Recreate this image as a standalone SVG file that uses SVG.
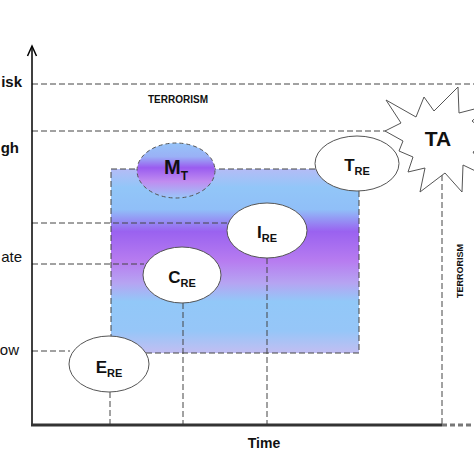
<svg xmlns="http://www.w3.org/2000/svg" width="474" height="474" viewBox="0 0 474 474">
<defs>
<linearGradient id="gRect" x1="0" y1="0" x2="0" y2="1">
<stop offset="0" stop-color="#b4bcf6"/>
<stop offset="0.1" stop-color="#92c6f8"/>
<stop offset="0.22" stop-color="#90bff8"/>
<stop offset="0.34" stop-color="#9a62f0"/>
<stop offset="0.5" stop-color="#b77cf0"/>
<stop offset="0.62" stop-color="#b6a4f2"/>
<stop offset="0.72" stop-color="#92c8f8"/>
<stop offset="0.88" stop-color="#96c6f8"/>
<stop offset="1" stop-color="#c2bef2"/>
</linearGradient>
<linearGradient id="gM" x1="0" y1="0" x2="0" y2="1">
<stop offset="0" stop-color="#96c4f8"/>
<stop offset="0.25" stop-color="#9ab0f6"/>
<stop offset="0.45" stop-color="#9a5cf0"/>
<stop offset="0.7" stop-color="#c08cf0"/>
<stop offset="1" stop-color="#9ac6f8"/>
</linearGradient>
</defs>
<style>
.d{stroke:#444;stroke-width:1;stroke-dasharray:6 3;fill:none}
.e{fill:#fff;stroke:#555;stroke-width:1}
.lab{font-family:"Liberation Sans",Arial,sans-serif;font-weight:bold;fill:#111}
.ax{font-family:"Liberation Sans",Arial,sans-serif;fill:#111}
</style>
<rect x="0" y="0" width="474" height="474" fill="#fff"/>
<rect id="zone" x="111" y="169" width="248" height="184" fill="url(#gRect)" stroke="#444" stroke-width="1" stroke-dasharray="6 3"/>
<g id="connectors">
<line class="d" x1="32" y1="84" x2="474" y2="84"/>
<line class="d" x1="32" y1="131" x2="386" y2="131"/>
<line class="d" x1="32" y1="223" x2="228" y2="223"/>
<line class="d" x1="32" y1="264" x2="144" y2="264"/>
<line class="d" x1="32" y1="351" x2="70" y2="351"/>
<line class="d" x1="110" y1="392" x2="110" y2="425"/>
<line class="d" x1="183" y1="303" x2="183" y2="425"/>
<line class="d" x1="267" y1="258" x2="267" y2="425"/>
<line class="d" x1="442" y1="175" x2="442" y2="425" stroke="#666"/>
<line x1="32" y1="425" x2="32" y2="47" stroke="#000" stroke-width="1.5"/>
<polyline points="27.5,56 32,46 36.5,56" fill="none" stroke="#000" stroke-width="1.5"/>
<line x1="31" y1="425" x2="442" y2="425" stroke="#333" stroke-width="3"/>
<line x1="442" y1="425" x2="474" y2="425" stroke="#777" stroke-width="3" stroke-dasharray="5 3"/>
</g>
<g id="TA">
<polygon points="386,100 416,117 424,97 434,111 458,87 459,113 490,105 472,121 495,140 473,152 490,178 463,165 462,192 445,173 420,192 425,168 408,172 413,157 399,151 403,141 385,131 401,123" fill="#fff" stroke="#555" stroke-width="1"/>
<text class="lab" x="438" y="146" font-size="21" text-anchor="middle">TA</text>
</g>
<g id="MT">
<ellipse cx="176" cy="170.5" rx="39" ry="27.5" fill="url(#gM)" stroke="#555" stroke-width="1" stroke-dasharray="4 3"/>
<text class="lab" x="176" y="174" font-size="20" text-anchor="middle">M<tspan font-size="12" dy="6">T</tspan></text>
</g>
<g id="TRE">
<ellipse class="e" cx="357" cy="163.5" rx="42" ry="27.5"/>
<text class="lab" x="357" y="171" font-size="17" text-anchor="middle">T<tspan font-size="11" dy="4">RE</tspan></text>
</g>
<g id="IRE">
<ellipse class="e" cx="267" cy="230.5" rx="40" ry="27.5"/>
<text class="lab" x="267" y="238" font-size="17" text-anchor="middle">I<tspan font-size="11" dy="4">RE</tspan></text>
</g>
<g id="CRE">
<ellipse class="e" cx="182" cy="275" rx="39" ry="28"/>
<text class="lab" x="182" y="283" font-size="17" text-anchor="middle">C<tspan font-size="11" dy="4">RE</tspan></text>
</g>
<g id="ERE">
<ellipse class="e" cx="109" cy="364" rx="40" ry="28"/>
<text class="lab" x="109" y="373" font-size="17" text-anchor="middle">E<tspan font-size="11" dy="4">RE</tspan></text>
</g>
<g id="labels">
<text class="lab" x="148" y="103" font-size="10">TERRORISM</text>
<text class="lab" x="463" y="271" font-size="9" text-anchor="middle" transform="rotate(-90 463 271)">TERRORISM</text>
<text class="lab" x="264" y="448" font-size="14" text-anchor="middle">Time</text>
<text class="lab" x="22" y="87" font-size="15" text-anchor="end">isk</text>
<text class="lab" x="19" y="153" font-size="15" text-anchor="end">gh</text>
<text class="ax" x="22" y="262" font-size="15" text-anchor="end">ate</text>
<text class="ax" x="19" y="355" font-size="15" text-anchor="end">ow</text>
</g>
</svg>
